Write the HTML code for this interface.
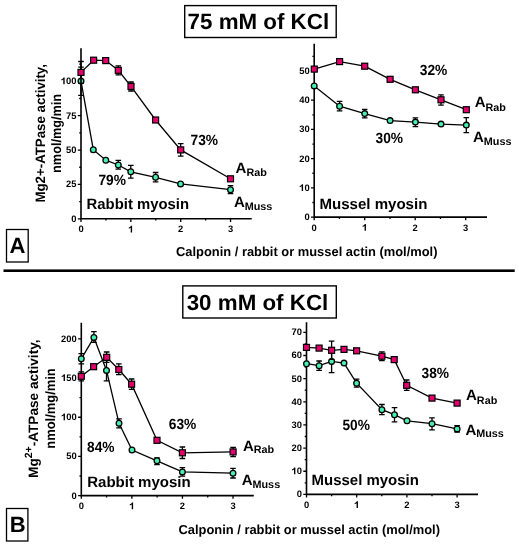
<!DOCTYPE html><html><head><meta charset="utf-8"><style>html,body{margin:0;padding:0;background:#fff;}svg{display:block;will-change:transform;}text{font-family:"Liberation Sans",sans-serif;font-weight:bold;fill:#000;text-rendering:geometricPrecision;}</style></head><body>
<svg width="519" height="550" viewBox="0 0 519 550">
<rect width="519" height="550" fill="#fff"/>
<rect x="184.7" y="5.6" width="151.5" height="31.9" fill="none" stroke="#000" stroke-width="1.4"/>
<text x="187.6" y="29.3" font-size="22" text-anchor="start" textLength="141.5" lengthAdjust="spacingAndGlyphs" >75 mM of KCl</text>
<rect x="182.8" y="285.9" width="153.5" height="32.1" fill="none" stroke="#000" stroke-width="1.4"/>
<text x="186.7" y="309.6" font-size="22" text-anchor="start" textLength="141.6" lengthAdjust="spacingAndGlyphs" >30 mM of KCl</text>
<rect x="6.5" y="229.5" width="21.7" height="32.5" fill="none" stroke="#000" stroke-width="1.3"/>
<text x="17.4" y="253.3" font-size="22" text-anchor="middle" >A</text>
<rect x="6.5" y="508.5" width="21.4" height="32.5" fill="none" stroke="#000" stroke-width="1.3"/>
<text x="17.6" y="532.1" font-size="22" text-anchor="middle" >B</text>
<rect x="3.5" y="269.4" width="511.2" height="2.6" fill="#000"/>
<text x="176" y="256.3" font-size="13" text-anchor="start" textLength="261.5" lengthAdjust="spacingAndGlyphs" >Calponin / rabbit or mussel actin (mol/mol)</text>
<text x="178.5" y="534.3" font-size="13" text-anchor="start" textLength="261.5" lengthAdjust="spacingAndGlyphs" >Calponin / rabbit or mussel actin (mol/mol)</text>
<g transform="translate(45.3,133.3) rotate(-90)">
<text x="0" y="0" font-size="13.6" text-anchor="middle" textLength="138.5" lengthAdjust="spacingAndGlyphs" >Mg2+-ATPase activity,</text>
</g>
<g transform="translate(61,133.4) rotate(-90)">
<text x="0" y="0" font-size="13.6" text-anchor="middle" textLength="79" lengthAdjust="spacingAndGlyphs" >nmol/mg/min</text>
</g>
<g transform="translate(38.1,408.7) rotate(-90)">
<text x="0" y="0" font-size="13.6" text-anchor="middle">Mg<tspan font-size="10.5" dy="-6">2+</tspan><tspan dy="6">-ATPase activity,</tspan></text>
</g>
<g transform="translate(55.2,408.5) rotate(-90)">
<text x="0" y="0" font-size="13.6" text-anchor="middle" textLength="80.5" lengthAdjust="spacingAndGlyphs" >nmol/mg/min</text>
</g>
<path d="M81,48.2V218.8H251.7" fill="none" stroke="#000" stroke-width="1.6"/>
<path d="M81,218.80h-3.2 M81,184.43h-3.2 M81,150.05h-3.2 M81,115.68h-3.2 M81,81.30h-3.2 M81,201.61h-1.8 M81,167.24h-1.8 M81,132.86h-1.8 M81,98.49h-1.8 M81,64.11h-1.8 M81.00,218.8v3.2 M130.85,218.8v3.2 M180.70,218.8v3.2 M230.55,218.8v3.2 M105.92,218.8v1.8 M155.78,218.8v1.8 M205.62,218.8v1.8" stroke="#000" stroke-width="1.3" fill="none"/>
<text x="71.25" y="221.70" font-size="9.4">0</text>
<text x="66.02" y="187.33" font-size="9.4">2</text>
<text x="71.25" y="187.33" font-size="9.4">5</text>
<text x="66.02" y="152.95" font-size="9.4">5</text>
<text x="71.25" y="152.95" font-size="9.4">0</text>
<text x="66.02" y="118.58" font-size="9.4">7</text>
<text x="71.25" y="118.58" font-size="9.4">5</text>
<path d="M410,0H265V-500C210,-450 130,-415 60,-395V-520C150,-550 240,-610 285,-716H410Z" transform="translate(60.80,84.20) scale(0.00940)"/>
<text x="66.02" y="84.20" font-size="9.4">0</text>
<text x="71.25" y="84.20" font-size="9.4">0</text>
<text x="78.39" y="232.40" font-size="9.4">0</text>
<path d="M410,0H265V-500C210,-450 130,-415 60,-395V-520C150,-550 240,-610 285,-716H410Z" transform="translate(128.24,232.40) scale(0.00940)"/>
<text x="178.09" y="232.40" font-size="9.4">2</text>
<text x="227.94" y="232.40" font-size="9.4">3</text>
<path d="M81.00,81.10 L93.30,149.70 L105.80,160.20 L118.30,165.00 L130.80,171.80 L155.60,177.30 L180.60,183.90 L230.50,189.70" fill="none" stroke="#000" stroke-width="1.3"/>
<path d="M81.00,67.10V95.40M78.20,67.10h5.6M78.20,95.40h5.6" stroke="#000" stroke-width="1.3" fill="none"/>
<path d="M118.30,160.40V169.10M115.50,160.40h5.6M115.50,169.10h5.6" stroke="#000" stroke-width="1.3" fill="none"/>
<path d="M130.80,165.40V178.20M128.00,165.40h5.6M128.00,178.20h5.6" stroke="#000" stroke-width="1.3" fill="none"/>
<path d="M155.60,172.50V181.80M152.80,172.50h5.6M152.80,181.80h5.6" stroke="#000" stroke-width="1.3" fill="none"/>
<path d="M230.50,185.70V193.70M227.70,185.70h5.6M227.70,193.70h5.6" stroke="#000" stroke-width="1.3" fill="none"/>
<circle cx="81.00" cy="81.10" r="2.85" fill="#46f0b2" stroke="#000" stroke-width="1.3"/>
<circle cx="93.30" cy="149.70" r="2.85" fill="#46f0b2" stroke="#000" stroke-width="1.3"/>
<circle cx="105.80" cy="160.20" r="2.85" fill="#46f0b2" stroke="#000" stroke-width="1.3"/>
<circle cx="118.30" cy="165.00" r="2.85" fill="#46f0b2" stroke="#000" stroke-width="1.3"/>
<circle cx="130.80" cy="171.80" r="2.85" fill="#46f0b2" stroke="#000" stroke-width="1.3"/>
<circle cx="155.60" cy="177.30" r="2.85" fill="#46f0b2" stroke="#000" stroke-width="1.3"/>
<circle cx="180.60" cy="183.90" r="2.85" fill="#46f0b2" stroke="#000" stroke-width="1.3"/>
<circle cx="230.50" cy="189.70" r="2.85" fill="#46f0b2" stroke="#000" stroke-width="1.3"/>
<path d="M81,77.5V84.7" stroke="#000" stroke-width="0.9"/>
<path d="M81.00,72.40 L93.60,60.20 L105.70,60.60 L118.30,70.30 L131.00,86.40 L155.60,120.00 L180.70,149.90 L230.50,178.80" fill="none" stroke="#000" stroke-width="1.3"/>
<path d="M81.00,61.50V83.30M78.20,61.50h5.6M78.20,83.30h5.6" stroke="#000" stroke-width="1.3" fill="none"/>
<path d="M118.30,65.80V74.80M115.50,65.80h5.6M115.50,74.80h5.6" stroke="#000" stroke-width="1.3" fill="none"/>
<path d="M131.00,82.00V91.00M128.20,82.00h5.6M128.20,91.00h5.6" stroke="#000" stroke-width="1.3" fill="none"/>
<path d="M180.70,143.70V156.10M177.90,143.70h5.6M177.90,156.10h5.6" stroke="#000" stroke-width="1.3" fill="none"/>
<rect x="78.00" y="69.40" width="6" height="6" fill="#e2006c" stroke="#000" stroke-width="1.2"/>
<rect x="90.60" y="57.20" width="6" height="6" fill="#e2006c" stroke="#000" stroke-width="1.2"/>
<rect x="102.70" y="57.60" width="6" height="6" fill="#e2006c" stroke="#000" stroke-width="1.2"/>
<rect x="115.30" y="67.30" width="6" height="6" fill="#e2006c" stroke="#000" stroke-width="1.2"/>
<rect x="128.00" y="83.40" width="6" height="6" fill="#e2006c" stroke="#000" stroke-width="1.2"/>
<rect x="152.60" y="117.00" width="6" height="6" fill="#e2006c" stroke="#000" stroke-width="1.2"/>
<rect x="177.70" y="146.90" width="6" height="6" fill="#e2006c" stroke="#000" stroke-width="1.2"/>
<rect x="227.50" y="175.80" width="6" height="6" fill="#e2006c" stroke="#000" stroke-width="1.2"/>
<path d="M314.2,43.8V217.1H487" fill="none" stroke="#000" stroke-width="1.6"/>
<path d="M314.2,217.10h-3.2 M314.2,187.88h-3.2 M314.2,158.66h-3.2 M314.2,129.44h-3.2 M314.2,100.22h-3.2 M314.2,71.00h-3.2 M314.2,202.49h-1.8 M314.2,173.27h-1.8 M314.2,144.05h-1.8 M314.2,114.83h-1.8 M314.2,85.61h-1.8 M314.2,56.39h-1.8 M314.20,217.1v3.2 M364.70,217.1v3.2 M415.20,217.1v3.2 M465.70,217.1v3.2 M339.45,217.1v1.8 M389.95,217.1v1.8 M440.45,217.1v1.8" stroke="#000" stroke-width="1.3" fill="none"/>
<text x="304.45" y="220.10" font-size="9.4">0</text>
<path d="M410,0H265V-500C210,-450 130,-415 60,-395V-520C150,-550 240,-610 285,-716H410Z" transform="translate(299.22,190.88) scale(0.00940)"/>
<text x="304.45" y="190.88" font-size="9.4">0</text>
<text x="299.22" y="161.66" font-size="9.4">2</text>
<text x="304.45" y="161.66" font-size="9.4">0</text>
<text x="299.22" y="132.44" font-size="9.4">3</text>
<text x="304.45" y="132.44" font-size="9.4">0</text>
<text x="299.22" y="103.22" font-size="9.4">4</text>
<text x="304.45" y="103.22" font-size="9.4">0</text>
<text x="299.22" y="74.00" font-size="9.4">5</text>
<text x="304.45" y="74.00" font-size="9.4">0</text>
<text x="311.59" y="230.70" font-size="9.4">0</text>
<path d="M410,0H265V-500C210,-450 130,-415 60,-395V-520C150,-550 240,-610 285,-716H410Z" transform="translate(362.09,230.70) scale(0.00940)"/>
<text x="412.59" y="230.70" font-size="9.4">2</text>
<text x="463.09" y="230.70" font-size="9.4">3</text>
<path d="M314.20,85.90 L339.60,106.20 L364.70,113.60 L390.10,120.60 L415.40,122.10 L441.00,124.10 L466.30,125.10" fill="none" stroke="#000" stroke-width="1.3"/>
<path d="M339.60,101.40V110.80M336.80,101.40h5.6M336.80,110.80h5.6" stroke="#000" stroke-width="1.3" fill="none"/>
<path d="M364.70,109.30V117.90M361.90,109.30h5.6M361.90,117.90h5.6" stroke="#000" stroke-width="1.3" fill="none"/>
<path d="M415.40,117.90V126.60M412.60,117.90h5.6M412.60,126.60h5.6" stroke="#000" stroke-width="1.3" fill="none"/>
<path d="M466.30,117.70V132.60M463.50,117.70h5.6M463.50,132.60h5.6" stroke="#000" stroke-width="1.3" fill="none"/>
<circle cx="314.20" cy="85.90" r="2.85" fill="#46f0b2" stroke="#000" stroke-width="1.3"/>
<circle cx="339.60" cy="106.20" r="2.85" fill="#46f0b2" stroke="#000" stroke-width="1.3"/>
<circle cx="364.70" cy="113.60" r="2.85" fill="#46f0b2" stroke="#000" stroke-width="1.3"/>
<circle cx="390.10" cy="120.60" r="2.85" fill="#46f0b2" stroke="#000" stroke-width="1.3"/>
<circle cx="415.40" cy="122.10" r="2.85" fill="#46f0b2" stroke="#000" stroke-width="1.3"/>
<circle cx="441.00" cy="124.10" r="2.85" fill="#46f0b2" stroke="#000" stroke-width="1.3"/>
<circle cx="466.30" cy="125.10" r="2.85" fill="#46f0b2" stroke="#000" stroke-width="1.3"/>
<path d="M314.30,69.10 L339.60,61.60 L364.70,66.20 L390.10,79.30 L415.40,89.80 L441.00,99.80 L466.30,109.70" fill="none" stroke="#000" stroke-width="1.3"/>
<path d="M441.00,94.80V105.20M438.20,94.80h5.6M438.20,105.20h5.6" stroke="#000" stroke-width="1.3" fill="none"/>
<rect x="311.30" y="66.10" width="6" height="6" fill="#e2006c" stroke="#000" stroke-width="1.2"/>
<rect x="336.60" y="58.60" width="6" height="6" fill="#e2006c" stroke="#000" stroke-width="1.2"/>
<rect x="361.70" y="63.20" width="6" height="6" fill="#e2006c" stroke="#000" stroke-width="1.2"/>
<rect x="387.10" y="76.30" width="6" height="6" fill="#e2006c" stroke="#000" stroke-width="1.2"/>
<rect x="412.40" y="86.80" width="6" height="6" fill="#e2006c" stroke="#000" stroke-width="1.2"/>
<rect x="438.00" y="96.80" width="6" height="6" fill="#e2006c" stroke="#000" stroke-width="1.2"/>
<rect x="463.30" y="106.70" width="6" height="6" fill="#e2006c" stroke="#000" stroke-width="1.2"/>
<path d="M81.3,322.8V495.6H253.8" fill="none" stroke="#000" stroke-width="1.6"/>
<path d="M81.3,495.60h-3.2 M81.3,456.43h-3.2 M81.3,417.25h-3.2 M81.3,378.08h-3.2 M81.3,338.90h-3.2 M81.3,476.01h-1.8 M81.3,436.84h-1.8 M81.3,397.66h-1.8 M81.3,358.49h-1.8 M81.30,495.6v3.2 M131.87,495.6v3.2 M182.44,495.6v3.2 M233.01,495.6v3.2 M106.58,495.6v1.8 M157.16,495.6v1.8 M207.72,495.6v1.8" stroke="#000" stroke-width="1.3" fill="none"/>
<text x="71.55" y="498.50" font-size="9.4">0</text>
<text x="66.32" y="459.32" font-size="9.4">5</text>
<text x="71.55" y="459.32" font-size="9.4">0</text>
<path d="M410,0H265V-500C210,-450 130,-415 60,-395V-520C150,-550 240,-610 285,-716H410Z" transform="translate(61.10,420.15) scale(0.00940)"/>
<text x="66.32" y="420.15" font-size="9.4">0</text>
<text x="71.55" y="420.15" font-size="9.4">0</text>
<path d="M410,0H265V-500C210,-450 130,-415 60,-395V-520C150,-550 240,-610 285,-716H410Z" transform="translate(61.10,380.98) scale(0.00940)"/>
<text x="66.32" y="380.98" font-size="9.4">5</text>
<text x="71.55" y="380.98" font-size="9.4">0</text>
<text x="61.10" y="341.80" font-size="9.4">2</text>
<text x="66.32" y="341.80" font-size="9.4">0</text>
<text x="71.55" y="341.80" font-size="9.4">0</text>
<text x="78.69" y="509.20" font-size="9.4">0</text>
<path d="M410,0H265V-500C210,-450 130,-415 60,-395V-520C150,-550 240,-610 285,-716H410Z" transform="translate(129.26,509.20) scale(0.00940)"/>
<text x="179.83" y="509.20" font-size="9.4">2</text>
<text x="230.40" y="509.20" font-size="9.4">3</text>
<path d="M81.30,358.80 L93.90,337.40 L106.50,370.40 L119.00,423.30 L132.00,450.00 L157.00,460.80 L182.40,471.90 L233.00,473.20" fill="none" stroke="#000" stroke-width="1.3"/>
<path d="M81.30,353.60V363.90M78.50,353.60h5.6M78.50,363.90h5.6" stroke="#000" stroke-width="1.3" fill="none"/>
<path d="M93.90,331.60V342.30M91.10,331.60h5.6M91.10,342.30h5.6" stroke="#000" stroke-width="1.3" fill="none"/>
<path d="M106.50,360.00V380.80M103.70,360.00h5.6M103.70,380.80h5.6" stroke="#000" stroke-width="1.3" fill="none"/>
<path d="M119.00,418.80V427.80M116.20,418.80h5.6M116.20,427.80h5.6" stroke="#000" stroke-width="1.3" fill="none"/>
<path d="M157.00,457.80V464.70M154.20,457.80h5.6M154.20,464.70h5.6" stroke="#000" stroke-width="1.3" fill="none"/>
<path d="M182.40,467.60V476.20M179.60,467.60h5.6M179.60,476.20h5.6" stroke="#000" stroke-width="1.3" fill="none"/>
<path d="M233.00,468.40V478.00M230.20,468.40h5.6M230.20,478.00h5.6" stroke="#000" stroke-width="1.3" fill="none"/>
<circle cx="81.30" cy="358.80" r="2.85" fill="#46f0b2" stroke="#000" stroke-width="1.3"/>
<circle cx="93.90" cy="337.40" r="2.85" fill="#46f0b2" stroke="#000" stroke-width="1.3"/>
<circle cx="106.50" cy="370.40" r="2.85" fill="#46f0b2" stroke="#000" stroke-width="1.3"/>
<circle cx="119.00" cy="423.30" r="2.85" fill="#46f0b2" stroke="#000" stroke-width="1.3"/>
<circle cx="132.00" cy="450.00" r="2.85" fill="#46f0b2" stroke="#000" stroke-width="1.3"/>
<circle cx="157.00" cy="460.80" r="2.85" fill="#46f0b2" stroke="#000" stroke-width="1.3"/>
<circle cx="182.40" cy="471.90" r="2.85" fill="#46f0b2" stroke="#000" stroke-width="1.3"/>
<circle cx="233.00" cy="473.20" r="2.85" fill="#46f0b2" stroke="#000" stroke-width="1.3"/>
<path d="M81.30,376.30 L93.60,366.70 L106.70,357.30 L118.80,369.50 L131.60,384.20 L157.00,440.30 L182.40,452.80 L233.10,451.90" fill="none" stroke="#000" stroke-width="1.3"/>
<path d="M81.30,371.80V380.90M78.50,371.80h5.6M78.50,380.90h5.6" stroke="#000" stroke-width="1.3" fill="none"/>
<path d="M106.70,352.00V362.40M103.90,352.00h5.6M103.90,362.40h5.6" stroke="#000" stroke-width="1.3" fill="none"/>
<path d="M118.80,363.90V374.70M116.00,363.90h5.6M116.00,374.70h5.6" stroke="#000" stroke-width="1.3" fill="none"/>
<path d="M131.60,379.00V389.30M128.80,379.00h5.6M128.80,389.30h5.6" stroke="#000" stroke-width="1.3" fill="none"/>
<path d="M182.40,447.00V458.50M179.60,447.00h5.6M179.60,458.50h5.6" stroke="#000" stroke-width="1.3" fill="none"/>
<path d="M233.10,447.30V456.60M230.30,447.30h5.6M230.30,456.60h5.6" stroke="#000" stroke-width="1.3" fill="none"/>
<rect x="78.30" y="373.30" width="6" height="6" fill="#e2006c" stroke="#000" stroke-width="1.2"/>
<rect x="90.60" y="363.70" width="6" height="6" fill="#e2006c" stroke="#000" stroke-width="1.2"/>
<rect x="103.70" y="354.30" width="6" height="6" fill="#e2006c" stroke="#000" stroke-width="1.2"/>
<rect x="115.80" y="366.50" width="6" height="6" fill="#e2006c" stroke="#000" stroke-width="1.2"/>
<rect x="128.60" y="381.20" width="6" height="6" fill="#e2006c" stroke="#000" stroke-width="1.2"/>
<rect x="154.00" y="437.30" width="6" height="6" fill="#e2006c" stroke="#000" stroke-width="1.2"/>
<rect x="179.40" y="449.80" width="6" height="6" fill="#e2006c" stroke="#000" stroke-width="1.2"/>
<rect x="230.10" y="448.90" width="6" height="6" fill="#e2006c" stroke="#000" stroke-width="1.2"/>
<path d="M306.5,322.3V494.4H478" fill="none" stroke="#000" stroke-width="1.6"/>
<path d="M306.5,494.40h-3.2 M306.5,471.25h-3.2 M306.5,448.10h-3.2 M306.5,424.95h-3.2 M306.5,401.80h-3.2 M306.5,378.65h-3.2 M306.5,355.50h-3.2 M306.5,332.35h-3.2 M306.5,482.82h-1.8 M306.5,459.67h-1.8 M306.5,436.52h-1.8 M306.5,413.38h-1.8 M306.5,390.22h-1.8 M306.5,367.07h-1.8 M306.5,343.92h-1.8 M306.50,494.4v3.2 M356.70,494.4v3.2 M406.90,494.4v3.2 M457.10,494.4v3.2 M331.60,494.4v1.8 M381.80,494.4v1.8 M432.00,494.4v1.8" stroke="#000" stroke-width="1.3" fill="none"/>
<text x="296.75" y="497.30" font-size="9.4">0</text>
<path d="M410,0H265V-500C210,-450 130,-415 60,-395V-520C150,-550 240,-610 285,-716H410Z" transform="translate(291.52,474.15) scale(0.00940)"/>
<text x="296.75" y="474.15" font-size="9.4">0</text>
<text x="291.52" y="451.00" font-size="9.4">2</text>
<text x="296.75" y="451.00" font-size="9.4">0</text>
<text x="291.52" y="427.85" font-size="9.4">3</text>
<text x="296.75" y="427.85" font-size="9.4">0</text>
<text x="291.52" y="404.70" font-size="9.4">4</text>
<text x="296.75" y="404.70" font-size="9.4">0</text>
<text x="291.52" y="381.55" font-size="9.4">5</text>
<text x="296.75" y="381.55" font-size="9.4">0</text>
<text x="291.52" y="358.40" font-size="9.4">6</text>
<text x="296.75" y="358.40" font-size="9.4">0</text>
<text x="291.52" y="335.25" font-size="9.4">7</text>
<text x="296.75" y="335.25" font-size="9.4">0</text>
<text x="303.89" y="508.00" font-size="9.4">0</text>
<path d="M410,0H265V-500C210,-450 130,-415 60,-395V-520C150,-550 240,-610 285,-716H410Z" transform="translate(354.09,508.00) scale(0.00940)"/>
<text x="404.29" y="508.00" font-size="9.4">2</text>
<text x="454.49" y="508.00" font-size="9.4">3</text>
<path d="M306.50,363.70 L319.10,365.70 L331.60,361.40 L344.00,363.10 L356.60,383.20 L381.90,409.70 L394.50,414.70 L407.00,420.80 L432.00,423.70 L457.10,428.90" fill="none" stroke="#000" stroke-width="1.3"/>
<path d="M319.10,361.00V370.30M316.30,361.00h5.6M316.30,370.30h5.6" stroke="#000" stroke-width="1.3" fill="none"/>
<path d="M331.60,350.40V372.60M328.80,350.40h5.6M328.80,372.60h5.6" stroke="#000" stroke-width="1.3" fill="none"/>
<path d="M356.60,379.20V387.20M353.80,379.20h5.6M353.80,387.20h5.6" stroke="#000" stroke-width="1.3" fill="none"/>
<path d="M381.90,404.50V414.70M379.10,404.50h5.6M379.10,414.70h5.6" stroke="#000" stroke-width="1.3" fill="none"/>
<path d="M394.50,407.70V421.80M391.70,407.70h5.6M391.70,421.80h5.6" stroke="#000" stroke-width="1.3" fill="none"/>
<path d="M432.00,417.90V429.90M429.20,417.90h5.6M429.20,429.90h5.6" stroke="#000" stroke-width="1.3" fill="none"/>
<path d="M457.10,425.60V432.00M454.30,425.60h5.6M454.30,432.00h5.6" stroke="#000" stroke-width="1.3" fill="none"/>
<circle cx="306.50" cy="363.70" r="2.85" fill="#46f0b2" stroke="#000" stroke-width="1.3"/>
<circle cx="319.10" cy="365.70" r="2.85" fill="#46f0b2" stroke="#000" stroke-width="1.3"/>
<circle cx="331.60" cy="361.40" r="2.85" fill="#46f0b2" stroke="#000" stroke-width="1.3"/>
<circle cx="344.00" cy="363.10" r="2.85" fill="#46f0b2" stroke="#000" stroke-width="1.3"/>
<circle cx="356.60" cy="383.20" r="2.85" fill="#46f0b2" stroke="#000" stroke-width="1.3"/>
<circle cx="381.90" cy="409.70" r="2.85" fill="#46f0b2" stroke="#000" stroke-width="1.3"/>
<circle cx="394.50" cy="414.70" r="2.85" fill="#46f0b2" stroke="#000" stroke-width="1.3"/>
<circle cx="407.00" cy="420.80" r="2.85" fill="#46f0b2" stroke="#000" stroke-width="1.3"/>
<circle cx="432.00" cy="423.70" r="2.85" fill="#46f0b2" stroke="#000" stroke-width="1.3"/>
<circle cx="457.10" cy="428.90" r="2.85" fill="#46f0b2" stroke="#000" stroke-width="1.3"/>
<path d="M306.50,347.40 L319.10,348.10 L331.60,350.30 L344.00,349.40 L356.60,350.80 L381.90,356.20 L394.20,359.60 L406.70,385.30 L432.00,398.10 L457.10,403.10" fill="none" stroke="#000" stroke-width="1.3"/>
<path d="M331.60,341.20V359.40M328.80,341.20h5.6M328.80,359.40h5.6" stroke="#000" stroke-width="1.3" fill="none"/>
<path d="M381.90,351.80V360.60M379.10,351.80h5.6M379.10,360.60h5.6" stroke="#000" stroke-width="1.3" fill="none"/>
<path d="M406.70,380.00V390.40M403.90,380.00h5.6M403.90,390.40h5.6" stroke="#000" stroke-width="1.3" fill="none"/>
<rect x="303.50" y="344.40" width="6" height="6" fill="#e2006c" stroke="#000" stroke-width="1.2"/>
<rect x="316.10" y="345.10" width="6" height="6" fill="#e2006c" stroke="#000" stroke-width="1.2"/>
<rect x="328.60" y="347.30" width="6" height="6" fill="#e2006c" stroke="#000" stroke-width="1.2"/>
<rect x="341.00" y="346.40" width="6" height="6" fill="#e2006c" stroke="#000" stroke-width="1.2"/>
<rect x="353.60" y="347.80" width="6" height="6" fill="#e2006c" stroke="#000" stroke-width="1.2"/>
<rect x="378.90" y="353.20" width="6" height="6" fill="#e2006c" stroke="#000" stroke-width="1.2"/>
<rect x="391.20" y="356.60" width="6" height="6" fill="#e2006c" stroke="#000" stroke-width="1.2"/>
<rect x="403.70" y="382.30" width="6" height="6" fill="#e2006c" stroke="#000" stroke-width="1.2"/>
<rect x="429.00" y="395.10" width="6" height="6" fill="#e2006c" stroke="#000" stroke-width="1.2"/>
<rect x="454.10" y="400.10" width="6" height="6" fill="#e2006c" stroke="#000" stroke-width="1.2"/>
<text x="190.60000000000002" y="144.6" font-size="14.8" text-anchor="start" textLength="27.5" lengthAdjust="spacingAndGlyphs" >73%</text>
<text x="98.39999999999999" y="185" font-size="14.8" text-anchor="start" textLength="27.5" lengthAdjust="spacingAndGlyphs" >79%</text>
<text x="419.8" y="75.4" font-size="14.8" text-anchor="start" textLength="27.5" lengthAdjust="spacingAndGlyphs" >32%</text>
<text x="375.6" y="142.5" font-size="14.8" text-anchor="start" textLength="27.5" lengthAdjust="spacingAndGlyphs" >30%</text>
<text x="168.8" y="428.7" font-size="14.8" text-anchor="start" textLength="27.5" lengthAdjust="spacingAndGlyphs" >63%</text>
<text x="87.0" y="452.3" font-size="14.8" text-anchor="start" textLength="27.5" lengthAdjust="spacingAndGlyphs" >84%</text>
<text x="421.5" y="377.9" font-size="14.8" text-anchor="start" textLength="27.5" lengthAdjust="spacingAndGlyphs" >38%</text>
<text x="342.40000000000003" y="429.7" font-size="14.8" text-anchor="start" textLength="27.5" lengthAdjust="spacingAndGlyphs" >50%</text>
<text x="235.6" y="173" font-size="15">A<tspan font-size="10.8" dy="3.3">Rab</tspan></text>
<text x="233.9" y="207.1" font-size="15">A<tspan font-size="10.8" dy="3.1">Muss</tspan></text>
<text x="474.7" y="107.2" font-size="15">A<tspan font-size="10.8" dy="3.8">Rab</tspan></text>
<text x="473" y="142" font-size="15">A<tspan font-size="10.8" dy="3">Muss</tspan></text>
<text x="242.9" y="450.5" font-size="15">A<tspan font-size="10.8" dy="2.5">Rab</tspan></text>
<text x="241.7" y="485.4" font-size="15">A<tspan font-size="10.8" dy="2.8">Muss</tspan></text>
<text x="466" y="399.9" font-size="15">A<tspan font-size="10.8" dy="3.6">Rab</tspan></text>
<text x="465.4" y="434.6" font-size="15">A<tspan font-size="10.8" dy="2.7">Muss</tspan></text>
<text x="86.6" y="209.3" font-size="15" text-anchor="start" textLength="102.5" lengthAdjust="spacingAndGlyphs" >Rabbit myosin</text>
<text x="319.4" y="208.7" font-size="15" text-anchor="start" textLength="108" lengthAdjust="spacingAndGlyphs" >Mussel myosin</text>
<text x="87.2" y="487.1" font-size="15" text-anchor="start" textLength="103.5" lengthAdjust="spacingAndGlyphs" >Rabbit myosin</text>
<text x="311.6" y="484.6" font-size="15" text-anchor="start" textLength="107.3" lengthAdjust="spacingAndGlyphs" >Mussel myosin</text>
</svg></body></html>
